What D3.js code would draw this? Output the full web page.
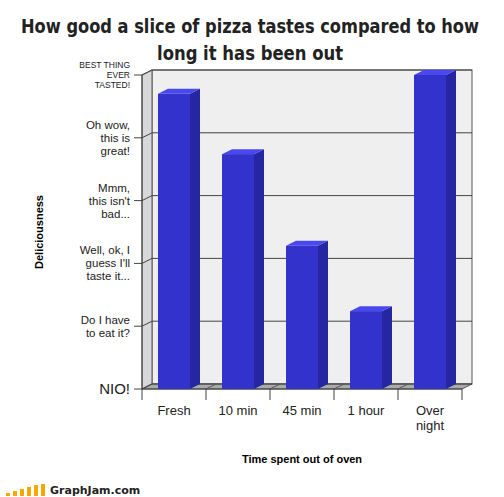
<!DOCTYPE html><html><head><meta charset="utf-8"><script src="https://cdn.jsdelivr.net/npm/d3@7"></script>
<style>body{margin:0;background:#fff}</style></head><body><svg id="c" width="504" height="497"></svg><script>
const categories=[["Fresh"],["10 min"],["45 min"],["1 hour"],["Over","night"]];
const values=[4.7,3.74,2.28,1.24,5.0];
const tickLabels=[["NIO!"],["Do I have","to eat it?"],["Well, ok, I","guess I'll","taste it..."],["Mmm,","this isn't","bad..."],["Oh wow,","this is","great!"],["BEST THING","EVER","TASTED!"]];
const svg=d3.select("#c");
const L=142,R=462,B=389,T=75,dx=10,dy=5;
const x=d3.scaleBand().domain(d3.range(categories.length)).range([L,R]).paddingInner(0.5).paddingOuter(0.25);
const y=d3.scaleLinear().domain([0,5]).range([B,T]);
svg.append("rect").attr("x",L+dx).attr("y",T-dy).attr("width",R-L).attr("height",B-T).attr("fill","#efefef").attr("stroke","#555");
svg.append("path").attr("d",`M${L},${T}L${L+dx},${T-dy}L${L+dx},${B-dy}L${L},${B}Z`).attr("fill","#d8d8d8").attr("stroke","#555");
svg.append("path").attr("d",`M${L},${B}L${L+dx},${B-dy}L${R+dx},${B-dy}L${R},${B}Z`).attr("fill","#aaa").attr("stroke","#555");
d3.range(0,6).forEach(v=>{
  svg.append("line").attr("x1",L+dx).attr("x2",R+dx).attr("y1",y(v)-dy).attr("y2",y(v)-dy).attr("stroke","#444");
  svg.append("line").attr("x1",L).attr("x2",L+dx).attr("y1",y(v)).attr("y2",y(v)-dy).attr("stroke","#444");
});
d3.range(1,categories.length).forEach(i=>{const xx=x.step()*i+L;
  svg.append("line").attr("x1",xx).attr("x2",xx+dx).attr("y1",B).attr("y2",B-dy).attr("stroke","#555");});
const ya=svg.append("g");
ya.append("line").attr("x1",L).attr("x2",L).attr("y1",T).attr("y2",B).attr("stroke","#444");
tickLabels.forEach((t,v)=>{
  ya.append("line").attr("x1",L-8).attr("x2",L).attr("y1",y(v)).attr("y2",y(v)).attr("stroke","#444");
  const big=v===0, small=v===5;
  const fs=big?15:(small?8.5:11.5), lh=big?15:(small?10:13);
  t.forEach((s,k)=>ya.append("text").attr("x",L-12).attr("y",y(v)+(k-(t.length-1)/2)*lh+fs*0.35)
    .attr("text-anchor","end").attr("font-family","Liberation Sans, Arial").attr("font-size",fs).attr("fill","#222").text(s));
});
svg.append("line").attr("x1",L).attr("x2",R).attr("y1",B).attr("y2",B).attr("stroke","#444");
d3.range(categories.length+1).forEach(i=>{const xx=L+x.step()*i;
  svg.append("line").attr("x1",xx).attr("x2",xx).attr("y1",B).attr("y2",B+11).attr("stroke","#444");});
categories.forEach((c,i)=>c.forEach((s,k)=>svg.append("text").attr("x",x(i)+x.bandwidth()/2).attr("y",415+k*15)
  .attr("text-anchor","middle").attr("font-family","Liberation Sans, Arial").attr("font-size",13).attr("fill","#222").text(s)));
values.forEach((v,i)=>{const x0=x(i),w=x.bandwidth(),yt=y(v);
  svg.append("path").attr("d",`M${x0+w},${yt}L${x0+w+dx},${yt-dy}L${x0+w+dx},${B-dy}L${x0+w},${B}Z`).attr("fill","#2626a0");
  svg.append("path").attr("d",`M${x0},${yt}L${x0+dx},${yt-dy}L${x0+w+dx},${yt-dy}L${x0+w},${yt}Z`).attr("fill","#4848ee");
  svg.append("rect").attr("x",x0).attr("y",yt).attr("width",w).attr("height",B-yt).attr("fill","#3333cc");
});
[["How good a slice of pizza tastes compared to how",458],["long it has been out",186]].forEach(([s,len],k)=>
  svg.append("text").attr("x",250).attr("y",33+k*27).attr("text-anchor","middle").attr("font-family","DejaVu Sans Condensed, DejaVu Sans").attr("font-weight","bold")
  .attr("font-size",20).attr("fill","#222").attr("textLength",len).attr("lengthAdjust","spacingAndGlyphs").text(s));
svg.append("text").attr("transform","translate(43,232) rotate(-90)").attr("text-anchor","middle").attr("font-family","Liberation Sans, Arial").attr("font-weight","bold").attr("font-size",11).text("Deliciousness");
svg.append("text").attr("x",302).attr("y",463).attr("text-anchor","middle").attr("font-family","Liberation Sans, Arial").attr("font-weight","bold").attr("font-size",11).text("Time spent out of oven");
[3,5,7,9,11,12].forEach((h,i)=>svg.append("rect").attr("x",6+i*7).attr("y",496-h).attr("width",4).attr("height",h).attr("fill","#f5a800"));
svg.append("text").attr("x",50).attr("y",494).attr("font-family","DejaVu Sans, Arial").attr("font-weight","bold").attr("font-size",11).attr("fill","#222").text("GraphJam.com");
</script></body></html>
